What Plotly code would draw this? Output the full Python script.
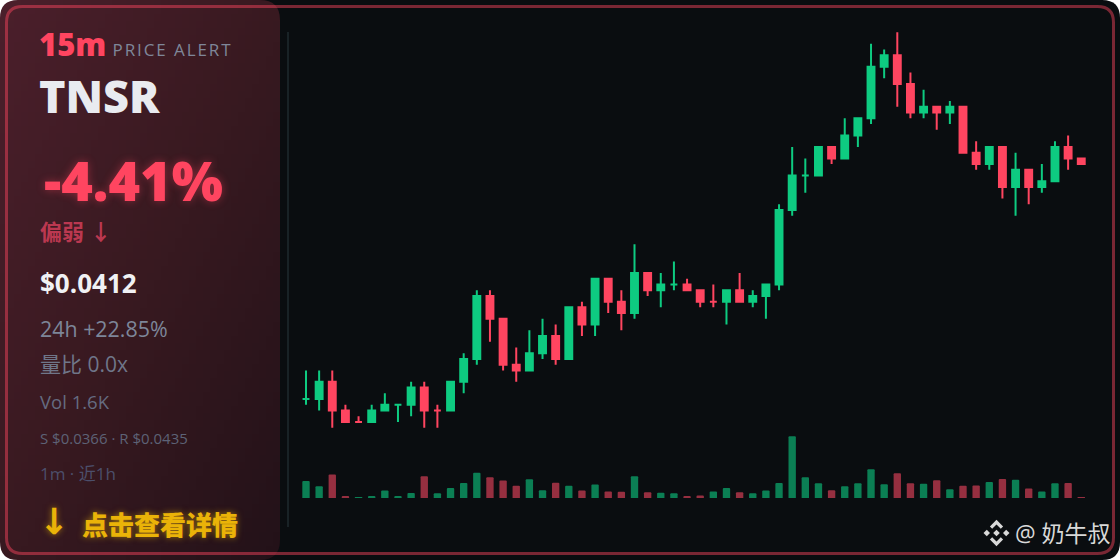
"""TNSR 15m price alert card: candles + volume with a left info panel."""
import numpy as np
import plotly.graph_objects as go

W, H = 1120, 560
GREEN = "#0ecb81"
RED = "#ff4560"
GOLD = "#eab308"
FONT = "Open Sans, Noto Sans CJK SC, sans-serif"

opens = [.0371, .0371, .0374, .0369, .0367, .0367, .0369, .0370, .0370, .0373,
         .0369, .0369, .0374, .0378, .0389, .0385, .0377, .0376, .0379, .0382,
         .0378, .0387, .0384, .0392, .0388, .0386, .0393, .0390, .0391, .0391,
         .0390, .0388, .0388, .0390, .0388, .0389, .0391, .0404, .0410, .0410,
         .0415, .0413, .0417, .0420, .0429, .0431, .0426, .0421, .0422, .0421,
         .0422, .0414, .0412, .0415, .0408, .0411, .0408, .0409, .0415, .0413]
closes = [.0371, .0374, .0369, .0367, .0367, .0369, .0370, .0370, .0373, .0369,
          .0369, .0374, .0378, .0389, .0385, .0377, .0376, .0379, .0382, .0378,
          .0387, .0384, .0392, .0388, .0386, .0393, .0390, .0391, .0391, .0390,
          .0388, .0388, .0390, .0388, .0389, .0391, .0404, .0410, .0410, .0415,
          .0413, .0417, .0420, .0429, .0431, .0426, .0421, .0422, .0421, .0422,
          .0414, .0412, .0415, .0408, .0411, .0408, .0409, .0415, .0413, .0412]
highs = [.0376, .0376, .0376, .0370, .0368, .0370, .0372, .0370, .0374, .0374,
         .0370, .0374, .0379, .0390, .0390, .0385, .0380, .0383, .0385, .0384,
         .0387, .0388, .0392, .0392, .0390, .0398, .0393, .0393, .0395, .0392,
         .0390, .0391, .0390, .0393, .0390, .0391, .0405, .0415, .0413, .0415,
         .0415, .0420, .0420, .0433, .0432, .0435, .0428, .0425, .0422, .0423,
         .0422, .0416, .0415, .0415, .0414, .0411, .0412, .0416, .0417, .0413]
lows = [.0370, .0369, .0366, .0367, .0367, .0367, .0369, .0367, .0368, .0366,
        .0366, .0369, .0372, .0377, .0381, .0376, .0374, .0376, .0378, .0377,
        .0378, .0382, .0382, .0386, .0383, .0385, .0389, .0387, .0390, .0390,
        .0387, .0387, .0384, .0388, .0387, .0385, .0390, .0403, .0407, .0410,
        .0412, .0413, .0415, .0419, .0427, .0422, .0420, .0420, .0418, .0419,
        .0414, .0411, .0411, .0406, .0403, .0405, .0407, .0409, .0411, .0412]
# volume in K, last bar is the "Vol 1.6K" of the panel
volumes = [39, 27, 54, 3, 1.6, 3.9, 17, 3.9, 11.5, 50,
           11, 23, 34.5, 58, 48, 40, 28, 43, 18, 35,
           28, 17, 31, 15, 14.5, 50, 13, 12, 11, 3.9,
           6, 15, 23, 13, 11, 17, 34.5, 142, 48, 34,
           18, 27, 34, 66, 31.5, 57, 34, 33, 41, 20,
           28, 29, 37, 44, 42, 22, 15, 34, 34.5, 1.6]
idx = list(range(len(closes)))

# pixel calibration of the chart area
X0, STEP = 306.0, 13.14
PRICE_Y0, PRICE_STEP = 427.7, 5.73 / 0.0001
VOL_BASE, VOL_PX = 498, 61.7 / 142


def ydom(top, bottom):
    return [1 - bottom / H, 1 - top / H]


fig = go.Figure()

# panel gradient, lives on the pixel canvas axes (x / y)
px = np.arange(0, 281, 7)
py = np.arange(0, 561, 7)
xc, yc = np.meshgrid((px[:-1] + px[1:]) / 2, (py[:-1] + py[1:]) / 2)
fig.add_trace(go.Heatmap(x=px, y=py, z=(xc / 280 + yc / 560) / 2, zmin=0, zmax=1, showscale=False,
                         colorscale=[[0, "#4b1f2b"], [0.5, "#381920"], [1, "#221118"]],
                         hoverinfo="skip", xaxis="x", yaxis="y"))

fig.add_trace(go.Candlestick(x=idx, open=opens, high=highs, low=lows, close=closes,
                             xaxis="x2", yaxis="y2", whiskerwidth=0,
                             increasing=dict(line=dict(color=GREEN, width=2), fillcolor=GREEN),
                             decreasing=dict(line=dict(color=RED, width=2), fillcolor=RED)))
vol_colors = ["#0b7f54" if c >= o else "#962f40" for o, c in zip(opens, closes)]
fig.add_trace(go.Bar(x=idx, y=volumes, marker=dict(color=vol_colors, line_width=0, cornerradius=1),
                     width=0.56, xaxis="x3", yaxis="y3"))


def rounded(x0, y0, x1, y1, r):
    return (f"M{x0 + r},{y0} L{x1 - r},{y0} Q{x1},{y0} {x1},{y0 + r} L{x1},{y1 - r} Q{x1},{y1} {x1 - r},{y1} "
            f"L{x0 + r},{y1} Q{x0},{y1} {x0},{y1 - r} L{x0},{y0 + r} Q{x0},{y0} {x0 + r},{y0} Z")


def corner(cx, cy, sx, sy, r):
    # square corner minus the quarter round, used to trim the panel
    return f"M{cx},{cy} L{cx + sx * r},{cy} Q{cx},{cy} {cx},{cy + sy * r} Z"


def poly(points):
    return "M" + " L".join(f"{x},{y}" for x, y in points) + " Z"


def shape(path, fill, layer="above", line=None):
    return dict(type="path", path=path, xref="x", yref="y", layer=layer, fillcolor=fill,
                line=line or dict(width=0))


INNER = "#0a0d10"
shapes = [
    shape(rounded(0, 0, W, H, 18), INNER, layer="below"),
    # panel corners
    shape(corner(0, 0, 1, 1, 18), "#ffffff"),
    shape(corner(0, H, 1, -1, 18), "#ffffff"),
    shape(corner(280, 0, -1, 1, 20), INNER),
    shape(corner(280, H, -1, -1, 20), INNER),
    # card border
    shape(rounded(6.5, 6.5, W - 6.5, H - 6.5, 16), "rgba(0,0,0,0)",
          line=dict(color="rgba(255,69,96,0.46)", width=3)),
    # divider
    dict(type="line", xref="x", yref="y", x0=288, x1=288, y0=32, y1=527, layer="below",
         line=dict(color="#1f2a2e", width=1.5)),
]

# watermark logo
LX, LY = 996.5, 533
logo = [
    [(0, -3.3), (3.3, 0), (0, 3.3), (-3.3, 0)],
    [(-9.7, -3.2), (-6.5, 0), (-9.7, 3.2), (-13, 0)],
    [(9.7, -3.2), (13, 0), (9.7, 3.2), (6.5, 0)],
    [(-6.6, -6.6), (0, -13.3), (6.6, -6.6), (4.3, -4.3), (0, -8.6), (-4.3, -4.3)],
    [(-6.6, 6.6), (0, 13.3), (6.6, 6.6), (4.3, 4.3), (0, 8.6), (-4.3, 4.3)],
]
for piece in logo:
    shapes.append(shape(poly([(LX + a, LY + b) for a, b in piece]), "#d9d9d9"))


def label(x, y, text, size, color, weight=400, glow=None, family=FONT):
    return dict(x=x, y=y, xref="x", yref="y", text=text, showarrow=False, xanchor="left", yanchor="middle",
                borderpad=0, font=dict(family=family, size=size, color=color, weight=weight,
                                       shadow=glow or "none"))


annotations = [
    label(38, 44, "15m", 31, RED, 800),
    label(122, 49, "PRICE ALERT", 17, "#7f8799"),
    label(38, 95, "TNSR", 45, "#e9ebf0", 800),
    label(43, 180, "-4.41%", 54, RED, 800, glow="0 0 8px rgba(255,69,96,0.42)"),
    label(39, 231, "偏弱 ↓", 22, "#bb3850", 700),
    label(39, 283, "$0.0412", 26, "#f0f1f4", 700),
    label(39, 328, "24h +22.85%", 21.4, "#7d8699"),
    label(39, 364, "量比 0.0x", 21, "#6f7689"),
    label(39, 401, "Vol 1.6K", 18.5, "#656b80"),
    label(39, 438, "S $0.0366 · R $0.0435", 15, "#5d6276"),
    label(39, 473, "1m · 近1h", 17, "#4c4f6b"),
    label(38, 521, "↓", 36, GOLD, 700, glow="0 0 6px rgba(234,179,8,0.6)", family="DejaVu Sans"),
    label(81, 525, "点击查看详情", 26, GOLD, 800, glow="0 0 6px rgba(234,179,8,0.6)"),
    label(1014, 533, "@ 奶牛叔", 23, "#d9d9d9"),
]

fig.update_layout(
    width=W, height=H, margin=dict(l=0, r=0, t=0, b=0), autosize=False,
    paper_bgcolor="#ffffff", plot_bgcolor="rgba(0,0,0,0)", showlegend=False, boxgap=0.25,
    shapes=shapes, annotations=annotations, hovermode=False,
    xaxis=dict(domain=[0, 1], range=[0, W], visible=False, fixedrange=True),
    yaxis=dict(domain=[0, 1], range=[H, 0], visible=False, fixedrange=True),
    xaxis2=dict(domain=[295 / W, 1093 / W], range=[(295 - X0) / STEP, (1093 - X0) / STEP],
                visible=False, rangeslider=dict(visible=False), anchor="y2"),
    yaxis2=dict(domain=ydom(25, 435), visible=False, anchor="x2",
                range=[.0366 + (PRICE_Y0 - 435) / PRICE_STEP, .0366 + (PRICE_Y0 - 25) / PRICE_STEP]),
    xaxis3=dict(domain=[295 / W, 1093 / W], range=[(295 - X0) / STEP, (1093 - X0) / STEP],
                visible=False, anchor="y3"),
    yaxis3=dict(domain=ydom(430, VOL_BASE), range=[0, (VOL_BASE - 430) / VOL_PX], visible=False, anchor="x3"),
)

POST = """
document.body.style.margin = '0';
document.body.style.overflow = 'hidden';
document.querySelectorAll('.annotation-text').forEach(function (t) {
  if (t.textContent === 'PRICE ALERT') t.style.letterSpacing = '1.9px';
});
"""
fig.write_html("out.html", post_script=POST, config=dict(displayModeBar=False))
